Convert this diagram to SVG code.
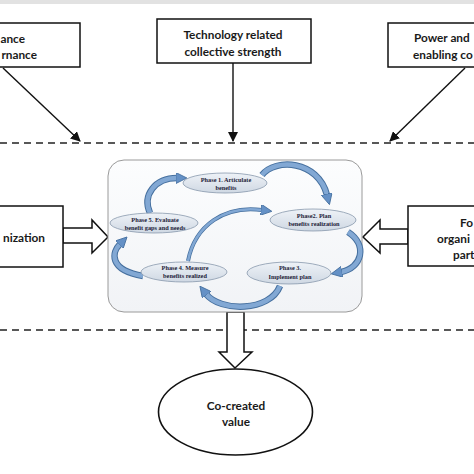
<svg xmlns="http://www.w3.org/2000/svg" width="474" height="474" viewBox="0 0 474 474">
<defs>
<style>
.box{fill:#fff;stroke:#111;stroke-width:1.5}
.lbl{font-family:Lato,"Liberation Sans",sans-serif;font-weight:bold;font-size:11.8px;fill:#1a1a1a}
.ph{font-family:"Liberation Serif",serif;font-weight:bold;font-size:6.3px;fill:#1d2238;text-anchor:middle}
.pe{fill:url(#eg);stroke:#8898ac;stroke-width:0.8}
.dash{stroke:#222;stroke-width:1.6;stroke-dasharray:7 5;fill:none}
.line{stroke:#111;stroke-width:1.4;fill:none;marker-end:url(#ah)}
.hollow{fill:#fff;stroke:#111;stroke-width:1.5;stroke-linejoin:miter}
.cyo{fill:none;stroke:#46709f;stroke-width:6.5}
.cyi{fill:none;stroke:#82a8d4;stroke-width:4.5;marker-end:url(#bh)}
</style>
<linearGradient id="eg" x1="0" y1="0" x2="0" y2="1">
<stop offset="0" stop-color="#eef2f7"/>
<stop offset="1" stop-color="#cfd8e3"/>
</linearGradient>
<linearGradient id="cg" x1="0" y1="0" x2="0" y2="1">
<stop offset="0" stop-color="#fcfdfe"/>
<stop offset="1" stop-color="#f1f3f6"/>
</linearGradient>
<marker id="ah" viewBox="0 0 10 10" refX="9" refY="5" markerWidth="10" markerHeight="10" markerUnits="userSpaceOnUse" orient="auto">
<path d="M0,0 L10,5 L0,10 z" fill="#111"/>
</marker>
<marker id="bh" viewBox="0 0 10 10" refX="1" refY="5" markerWidth="11" markerHeight="11" markerUnits="userSpaceOnUse" orient="auto">
<path d="M0,0 L10,5 L0,10 z" fill="#6591c6" stroke="#46709f" stroke-width="0.8"/>
</marker>
</defs>
<rect x="0" y="0" width="474" height="474" fill="#fff"/>
<rect x="0" y="0" width="474" height="4" fill="#e2e2e2"/>

<g id="connectors">
<line class="dash" x1="0" y1="143" x2="474" y2="143"/>
<line class="dash" x1="0" y1="330" x2="474" y2="330"/>
<line class="line" x1="3" y1="68" x2="80" y2="141"/>
<line class="line" x1="233" y1="63" x2="233" y2="141"/>
<line class="line" x1="465" y1="68" x2="390" y2="141"/>
<path class="hollow" d="M63,228 L92,228 L92,220 L108,237 L92,253 L92,243 L63,243 Z"/>
<path class="hollow" d="M408,229 L380,229 L380,220 L363,237 L380,253 L380,244 L408,244 Z"/>
<path class="hollow" d="M227,312 L227,352 L219,352 L235,368 L252,352 L244,352 L244,312 Z"/>
</g>

<g id="node-governance">
<rect class="box" x="-80" y="23" width="160" height="44"/>
<text class="lbl" x="25" y="43" text-anchor="end">ance</text>
<text class="lbl" x="37" y="59" text-anchor="end">rnance</text>
</g>
<g id="node-technology">
<rect class="box" x="157" y="19" width="154" height="44"/>
<text class="lbl" x="233" y="39" text-anchor="middle">Technology related</text>
<text class="lbl" x="233" y="56" text-anchor="middle">collective strength</text>
</g>
<g id="node-power">
<rect class="box" x="388" y="23" width="120" height="44"/>
<text class="lbl" x="414" y="42">Power and</text>
<text class="lbl" x="413" y="59">enabling co</text>
</g>
<g id="node-left">
<rect class="box" x="-80" y="206" width="143" height="61"/>
<text class="lbl" x="45" y="242" text-anchor="end">nization</text>
</g>
<g id="node-right">
<rect class="box" x="408" y="206" width="120" height="60"/>
<text class="lbl" x="460" y="227">Fo</text>
<text class="lbl" x="437" y="243">organi</text>
<text class="lbl" x="453" y="259">part</text>
</g>

<g id="node-cycle">
<rect x="108" y="160" width="254" height="152" rx="16" fill="url(#cg)" stroke="#9a9a9a" stroke-width="1"/>
<g id="cycle-arrows">
<path class="cyo" d="M262,175 C275,158 318,160 327,195"/>
<path class="cyi" d="M262,175 C275,158 318,160 327,195"/>
<path class="cyo" d="M348,232 C368,245 362,268 341,272"/>
<path class="cyi" d="M348,232 C368,245 362,268 341,272"/>
<path class="cyo" d="M280,286 C270,312 220,312 206,294"/>
<path class="cyi" d="M280,286 C270,312 220,312 206,294"/>
<path class="cyo" d="M143,276 C108,270 112,252 120,244"/>
<path class="cyi" d="M143,276 C108,270 112,252 120,244"/>
<path class="cyo" d="M150,213 C142,195 155,178 177,178"/>
<path class="cyi" d="M150,213 C142,195 155,178 177,178"/>
<path fill="none" stroke="#46709f" stroke-width="4" d="M188,261 C195,225 225,205 262,210"/>
<path fill="none" stroke="#82a8d4" stroke-width="2.5" marker-end="url(#bh)" d="M188,261 C195,225 225,205 262,210"/>
</g>
<g id="phase1"><ellipse class="pe" cx="225" cy="183" rx="42" ry="10"/>
<text class="ph" x="226" y="182">Phase 1. Articulate</text><text class="ph" x="226" y="189.5">benefits</text></g>
<g id="phase2"><ellipse class="pe" cx="313" cy="220" rx="43" ry="11"/>
<text class="ph" x="314" y="218">Phase2.  Plan</text><text class="ph" x="314" y="225.5">benefits realization</text></g>
<g id="phase3"><ellipse class="pe" cx="289" cy="273" rx="42" ry="11"/>
<text class="ph" x="290" y="270">Phase 3.</text><text class="ph" x="290" y="278.5">Implement plan</text></g>
<g id="phase4"><ellipse class="pe" cx="184" cy="272" rx="43" ry="10"/>
<text class="ph" x="185" y="270">Phase 4.  Measure</text><text class="ph" x="185" y="278">benefits realized</text></g>
<g id="phase5"><ellipse class="pe" cx="154" cy="223" rx="44" ry="10"/>
<text class="ph" x="155" y="222">Phase 5.  Evaluate</text><text class="ph" x="155" y="229.5">benefit gaps and needs</text></g>
</g>

<g id="node-value">
<ellipse cx="235.5" cy="412" rx="77" ry="43" fill="#fff" stroke="#111" stroke-width="1.6"/>
<text class="lbl" x="236" y="410" text-anchor="middle">Co-created</text>
<text class="lbl" x="236" y="426" text-anchor="middle">value</text>
</g>
</svg>
